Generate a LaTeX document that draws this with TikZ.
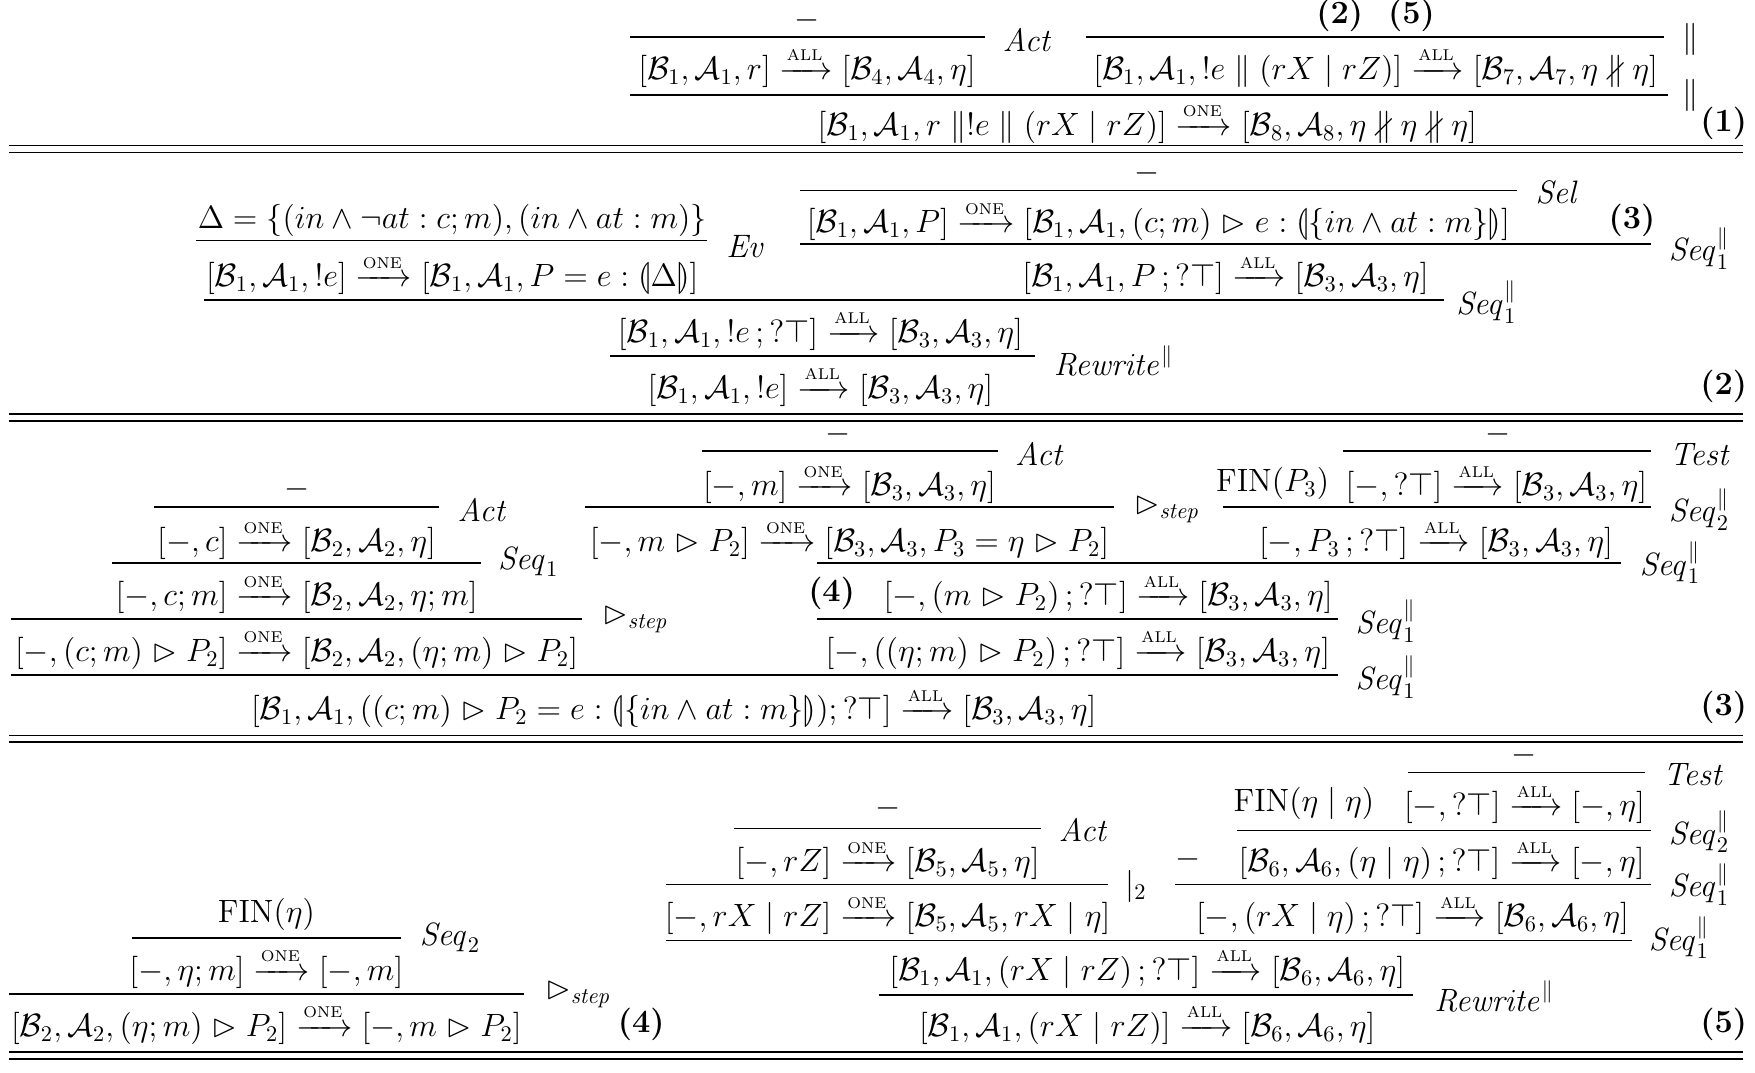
\documentclass[tikz,border=0pt]{standalone}
\usepackage{amsmath,amssymb,stmaryrd}
\newcommand{\Bx}[1]{\mathcal{B}_{#1}}
\newcommand{\Ax}[1]{\mathcal{A}_{#1}}
\newcommand{\ALLa}{\xrightarrow{\scriptscriptstyle\mathrm{ALL}}}
\newcommand{\ONEa}{\xrightarrow{\scriptscriptstyle\mathrm{ONE}}}
\newcommand{\bag}[1]{\llparenthesis#1\rrparenthesis}
\newcommand{\npar}{\nparallel}
\newcommand{\tr}{\mathrel{\vartriangleright}}
\newcommand{\stp}{\vartriangleright_{\mathit{step}}}
\begin{document}
\begin{tikzpicture}[x=0.5pt,y=-0.5pt,
  every node/.style={font=\fontsize{14.5}{16}\selectfont,inner sep=0pt},
  rl/.style={line width=0.6pt},
  dbl/.style={line width=0.6pt},
  lab/.style={font=\fontsize{14.5}{16}\selectfont\itshape},
  num/.style={font=\fontsize{14.5}{16}\selectfont\bfseries}]
\useasboundingbox (0,0) rectangle (1568,958);
% ---------- section 1
\node (a1) at (721,18) {$-$};
\draw[rl] (563,33) -- (880,33);
\node (a2) at (721,60) {$[\Bx{1},\Ax{1},r]\ALLa[\Bx{4},\Ax{4},\eta]$};
\node[lab] (a3) at (917,36) {Act};
\node[num] (a4) at (1197,14) {(2)};
\node[num] (a5) at (1261,14) {(5)};
\draw[rl] (970,33) -- (1487,33);
\node (a6) at (1229,60) {$[\Bx{1},\Ax{1},!e\parallel(rX\mid rZ)]\ALLa[\Bx{7},\Ax{7},\eta\npar\eta]$};
\node (a7) at (1510,35) {$\parallel$};
\draw[rl] (563,85) -- (1490,85);
\node (a8) at (1025,110) {$[\Bx{1},\Ax{1},r\parallel!e\parallel(rX\mid rZ)]\ONEa[\Bx{8},\Ax{8},\eta\npar\eta\npar\eta]$};
\node (a9) at (1510,85) {$\parallel$};
\node[num] (a10) at (1540,110) {(1)};
\draw[dbl] (8,130) -- (1557,130); \draw[dbl] (8,136) -- (1557,136);
% ---------- section 2
\node (b1) at (404,197) {$\Delta=\{(in\wedge\neg at:c;m),(in\wedge at:m)\}$};
\draw[rl] (175,215) -- (632,215);
\node (b2) at (404,245) {$[\Bx{1},\Ax{1},!e]\ONEa[\Bx{1},\Ax{1},P=e:\bag{\Delta}]$};
\node[lab] (b3) at (665,220) {Ev};
\node (b4) at (1025,155) {$-$};
\draw[rl] (715,170) -- (1355,170);
\node (b5) at (1035,197) {$[\Bx{1},\Ax{1},P]\ONEa[\Bx{1},\Ax{1},(c;m)\tr e:\bag{\{in\wedge at:m\}}]$};
\node[lab] (b6) at (1390,172) {Sel};
\node[num] (b7) at (1458,197) {(3)};
\draw[rl] (715,218) -- (1475,218);
\node (b8) at (1095,245) {$[\Bx{1},\Ax{1},P\,;?\top]\ALLa[\Bx{3},\Ax{3},\eta]$};
\node (b9) at (1518,222) {$\mathit{Seq}_1^{\parallel}$};
\draw[rl] (182,268) -- (1290,268);
\node (b10) at (733,295) {$[\Bx{1},\Ax{1},!e\,;?\top]\ALLa[\Bx{3},\Ax{3},\eta]$};
\node (b11) at (1328,270) {$\mathit{Seq}_1^{\parallel}$};
\draw[rl] (545,318) -- (925,318);
\node (b12) at (733,345) {$[\Bx{1},\Ax{1},!e]\ALLa[\Bx{3},\Ax{3},\eta]$};
\node (b13) at (995,322) {$\mathit{Rewrite}^{\parallel}$};
\node[num] (b14) at (1540,345) {(2)};
\draw[dbl] (8,370) -- (1557,370); \draw[dbl] (8,376) -- (1557,376);
% ---------- section 3
\node (c1) at (749,388) {$-$};
\draw[rl] (627,403) -- (892,403);
\node (c2) at (759,432) {$[-,m]\ONEa[\Bx{3},\Ax{3},\eta]$};
\node[lab] (c3) at (928,406) {Act};
\node (c4) at (1338,388) {$-$};
\draw[rl] (1200,403) -- (1475,403);
\node (c5) at (1337,432) {$[-,?\top]\ALLa[\Bx{3},\Ax{3},\eta]$};
\node[lab] (c6) at (1518,406) {Test};
\node (c7) at (1137,432) {$\mathrm{FIN}(P_3)$};
\draw[rl] (523,453) -- (995,453);
\node (c8) at (759,482) {$[-,m\tr P_2]\ONEa[\Bx{3},\Ax{3},P_3=\eta\tr P_2]$};
\node (c9) at (1043,455) {$\stp$};
\draw[rl] (1093,453) -- (1475,453);
\node (c10) at (1283,482) {$[-,P_3\,;?\top]\ALLa[\Bx{3},\Ax{3},\eta]$};
\node (c11) at (1518,455) {$\mathit{Seq}_2^{\parallel}$};
\node (c12) at (265,437) {$-$};
\draw[rl] (138,453) -- (392,453);
\node (c13) at (265,482) {$[-,c]\ONEa[\Bx{2},\Ax{2},\eta]$};
\node[lab] (c14) at (430,456) {Act};
\draw[rl] (100,503) -- (430,503);
\node (c15) at (265,530) {$[-,c;m]\ONEa[\Bx{2},\Ax{2},\eta;m]$};
\node (c16) at (472,502) {$\mathit{Seq}_1$};
\draw[rl] (730,503) -- (1448,503);
\node (c17) at (990,530) {$[-,(m\tr P_2)\,;?\top]\ALLa[\Bx{3},\Ax{3},\eta]$};
\node[num] (c18) at (743,530) {(4)};
\node (c19) at (1492,503) {$\mathit{Seq}_1^{\parallel}$};
\draw[rl] (10,553) -- (520,553);
\node (c20) at (265,580) {$[-,(c;m)\tr P_2]\ONEa[\Bx{2},\Ax{2},(\eta;m)\tr P_2]$};
\node (c21) at (568,553) {$\stp$};
\draw[rl] (730,553) -- (1195,553);
\node (c22) at (963,580) {$[-,((\eta;m)\tr P_2)\,;?\top]\ALLa[\Bx{3},\Ax{3},\eta]$};
\node (c23) at (1238,555) {$\mathit{Seq}_1^{\parallel}$};
\draw[rl] (10,603) -- (1195,603);
\node (c24) at (602,632) {$[\Bx{1},\Ax{1},((c;m)\tr P_2=e:\bag{\{in\wedge at:m\}});?\top]\ALLa[\Bx{3},\Ax{3},\eta]$};
\node (c25) at (1238,605) {$\mathit{Seq}_1^{\parallel}$};
\node[num] (c26) at (1540,632) {(3)};
\draw[dbl] (8,657) -- (1557,657); \draw[dbl] (8,663) -- (1557,663);
% ---------- section 4
\node (d1) at (1362,675) {$-$};
\draw[rl] (1258,690) -- (1470,690);
\node (d2) at (1362,718) {$[-,?\top]\ALLa[-,\eta]$};
\node[lab] (d3) at (1512,692) {Test};
\node (d4) at (1165,718) {$\mathrm{FIN}(\eta\mid\eta)$};
\node (d5) at (793,722) {$-$};
\draw[rl] (656,740) -- (930,740);
\node (d6) at (793,768) {$[-,rZ]\ONEa[\Bx{5},\Ax{5},\eta]$};
\node[lab] (d7) at (967,742) {Act};
\draw[rl] (1105,742) -- (1475,742);
\node (d8) at (1061,768) {$-$};
\node (d9) at (1288,768) {$[\Bx{6},\Ax{6},(\eta\mid\eta)\,;?\top]\ALLa[-,\eta]$};
\node (d10) at (1518,743) {$\mathit{Seq}_2^{\parallel}$};
\draw[rl] (595,790) -- (990,790);
\node (d11) at (793,817) {$[-,rX\mid rZ]\ONEa[\Bx{5},\Ax{5},rX\mid\eta]$};
\node (d12) at (1015,792) {$|_2$};
\draw[rl] (1050,790) -- (1475,790);
\node (d13) at (1262,817) {$[-,(rX\mid\eta)\,;?\top]\ALLa[\Bx{6},\Ax{6},\eta]$};
\node (d14) at (1518,790) {$\mathit{Seq}_1^{\parallel}$};
\draw[rl] (595,840) -- (1458,840);
\node (d15) at (1025,865) {$[\Bx{1},\Ax{1},(rX\mid rZ)\,;?\top]\ALLa[\Bx{6},\Ax{6},\eta]$};
\node (d16) at (1500,838) {$\mathit{Seq}_1^{\parallel}$};
\draw[rl] (785,889) -- (1262,889);
\node (d17) at (1025,915) {$[\Bx{1},\Ax{1},(rX\mid rZ)]\ALLa[\Bx{6},\Ax{6},\eta]$};
\node (d18) at (1335,890) {$\mathit{Rewrite}^{\parallel}$};
\node[num] (d19) at (1540,915) {(5)};
\node (d20) at (238,817) {$\mathrm{FIN}(\eta)$};
\draw[rl] (118,838) -- (358,838);
\node (d21) at (238,865) {$[-,\eta;m]\ONEa[-,m]$};
\node (d22) at (402,838) {$\mathit{Seq}_2$};
\draw[rl] (8,888) -- (468,888);
\node (d23) at (238,915) {$[\Bx{2},\Ax{2},(\eta;m)\tr P_2]\ONEa[-,m\tr P_2]$};
\node (d24) at (517,888) {$\stp$};
\node[num] (d25) at (573,915) {(4)};
\draw[dbl] (8,940) -- (1557,940); \draw[dbl] (8,946) -- (1557,946);
\end{tikzpicture}
\end{document}
